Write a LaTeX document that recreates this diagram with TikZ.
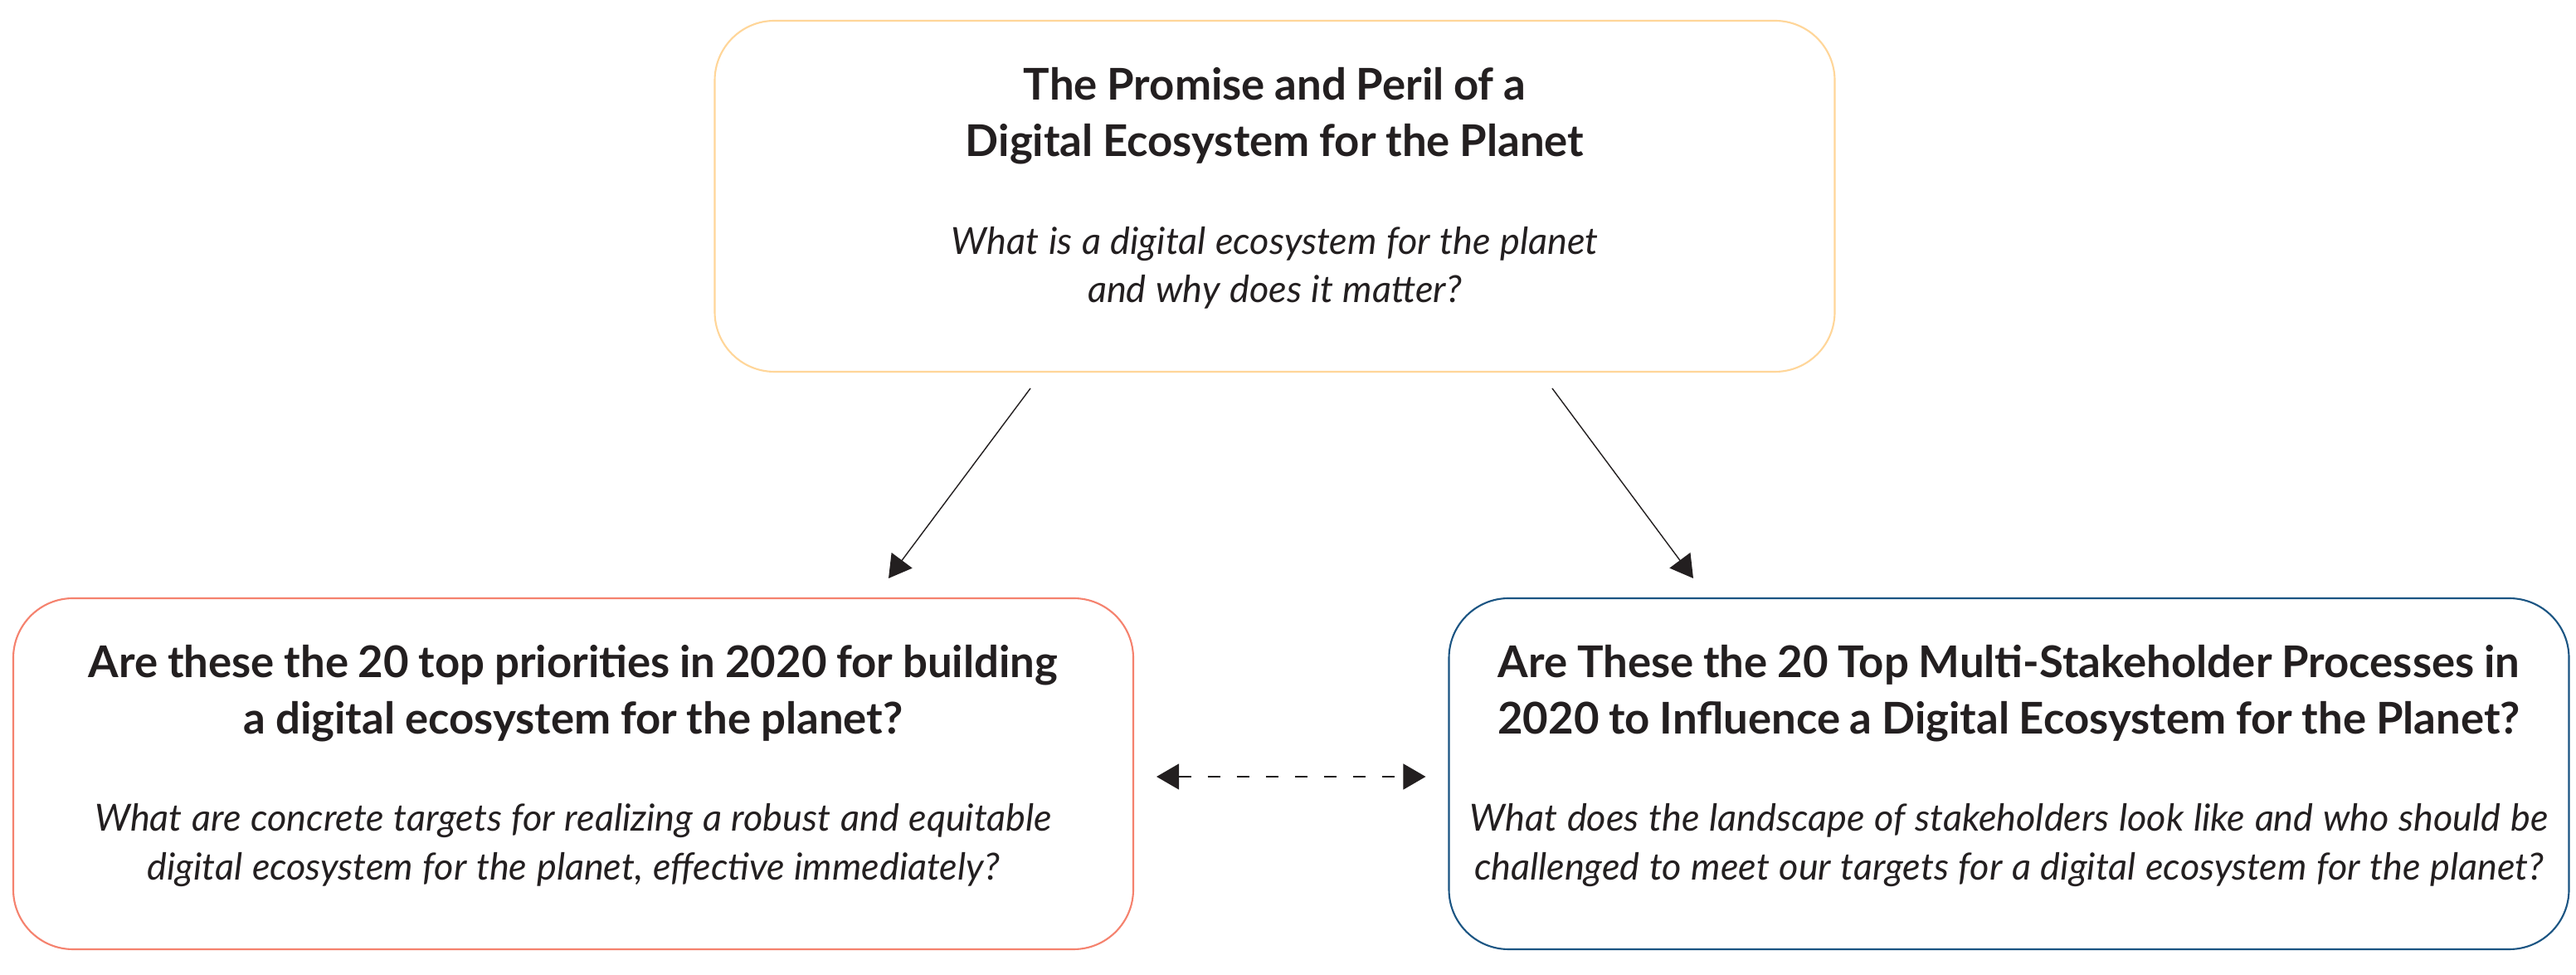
\documentclass[tikz,border=0pt]{standalone}
\usepackage{fontspec}
\setmainfont{Lato}
\usetikzlibrary{arrows.meta}

\definecolor{promiseline}{HTML}{FFD699}
\definecolor{priorityline}{HTML}{F5826E}
\definecolor{processline}{HTML}{1B5583}
\definecolor{ink}{HTML}{231F20}

\newcommand{\heading}[1]{{\fontsize{15}{19.3}\selectfont\bfseries #1\par}}
\newcommand{\question}[1]{{\fontsize{12.8}{16.6}\selectfont\itshape #1\par}}

\begin{document}
\begin{tikzpicture}
  [
    every node/.style={text=ink, align=center},
    topicbox/.style={draw, line width=0.6pt, rounded corners=0.72cm,
      minimum width=13.5cm, minimum height=4.23cm,
      text width=13.3cm, inner xsep=0.1cm, inner ysep=0pt},
    flow/.style={draw=ink, line width=0.4pt,
      -{Triangle[length=0.27cm, width=0.31cm]}},
    link/.style={flow, dash pattern=on 0.15cm off 0.2cm,
      {Triangle[length=0.27cm, width=0.31cm]}-{Triangle[length=0.27cm, width=0.31cm]}}
  ]
  \useasboundingbox (0,0) rectangle (31.05,11.75);
  \fill[white] (0,0) rectangle (31.05,11.75);

  % the three questions
  \node[topicbox, draw=promiseline] (promise) at (15.365,9.385) {%
    \heading{The Promise and Peril of a\\Digital Ecosystem for the Planet}
    \vspace{16.8pt}
    \question{What is a digital ecosystem for the planet\\and why does it matter?}
    \vspace{0.19cm}};
  \node[topicbox, draw=priorityline] (priorities) at (6.91,2.425) {%
    \heading{Are these the 20 top priorities in 2020 for building\\a digital ecosystem for the planet?}
    \vspace{16.8pt}
    \question{What are concrete targets for realizing a robust and equitable\\digital ecosystem for the planet, effective immediately?}
    \vspace{0.19cm}};
  \node[topicbox, draw=processline] (processes) at (24.215,2.425) {%
    \heading{Are These the 20 Top Multi-Stakeholder Processes in\\2020 to Influence a Digital Ecosystem for the Planet?}
    \vspace{16.8pt}
    \question{What does the landscape of stakeholders look like and who should be\\challenged to meet our targets for a digital ecosystem for the planet?}
    \vspace{0.19cm}};

  % connectors
  \draw[flow] ([xshift=-2.945cm, yshift=-0.19cm]promise.south)
    -- ([xshift=3.8cm, yshift=0.23cm]priorities.north);
  \draw[flow] ([xshift=3.345cm, yshift=-0.19cm]promise.south)
    -- ([xshift=-3.805cm, yshift=0.23cm]processes.north);
  \draw[link] ([xshift=0.27cm, yshift=-0.035cm]priorities.east)
    -- ([xshift=-0.27cm, yshift=-0.035cm]processes.west);
\end{tikzpicture}
\end{document}
